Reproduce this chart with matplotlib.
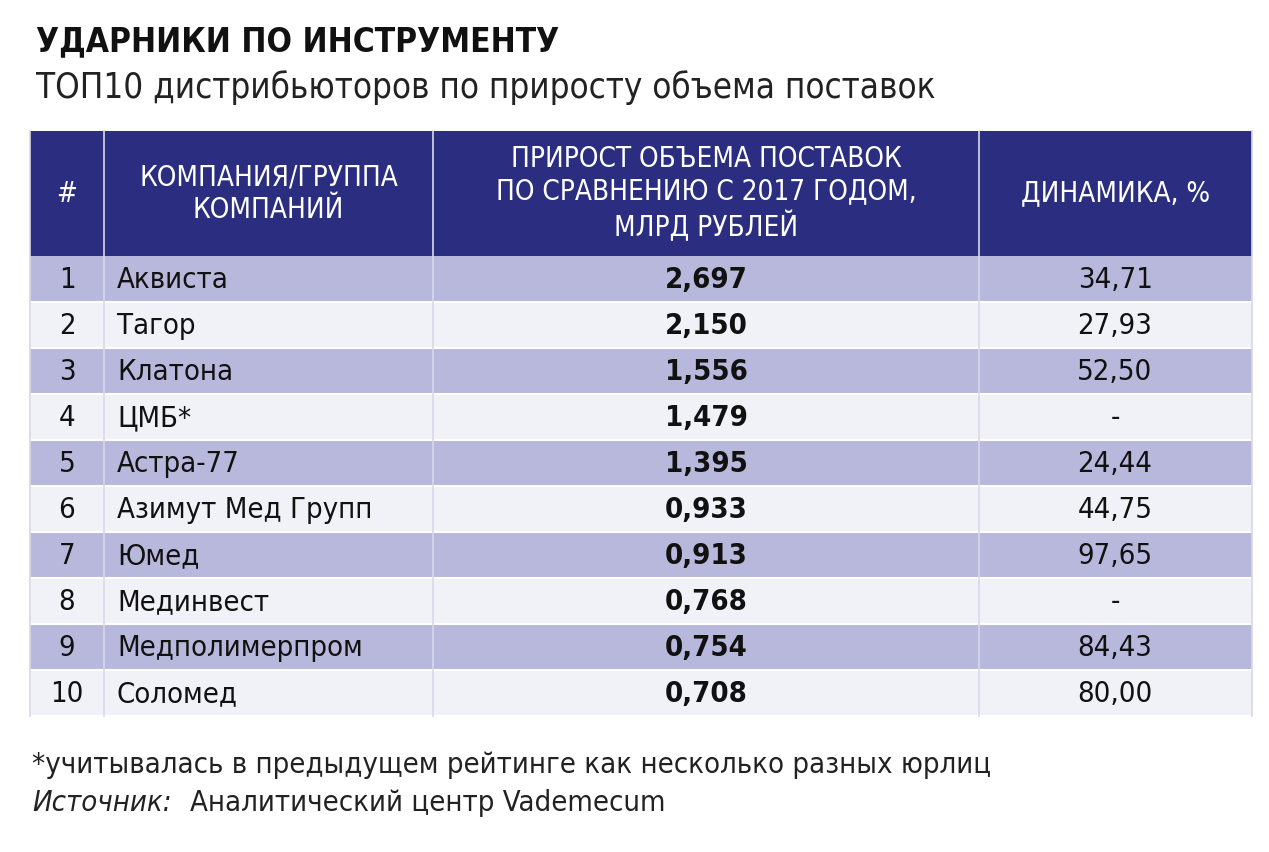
import matplotlib
matplotlib.use("Agg")
import matplotlib.pyplot as plt
from matplotlib.patches import Rectangle

ranks = ["1","2","3","4","5","6","7","8","9","10"]
companies = ["Аквиста","Тагор","Клатона","ЦМБ*","Астра-77","Азимут Мед Групп","Юмед","Мединвест","Медполимерпром","Соломед"]
growth = ["2,697","2,150","1,556","1,479","1,395","0,933","0,913","0,768","0,754","0,708"]
dynamics = ["34,71","27,93","52,50","-","24,44","44,75","97,65","-","84,43","80,00"]
headers = ["#","КОМПАНИЯ/ГРУППА\nКОМПАНИЙ","ПРИРОСТ ОБЪЕМА ПОСТАВОК\nПО СРАВНЕНИЮ С 2017 ГОДОМ,\nМЛРД РУБЛЕЙ","ДИНАМИКА, %"]

plt.rcParams["font.family"] = "DejaVu Sans"
plt.rcParams["font.stretch"] = "condensed"

W, H = 1269, 852
fig = plt.figure(figsize=(W/100, H/100), dpi=100)
ax = fig.add_axes([0, 0, 1, 1])
ax.set_xlim(0, W); ax.set_ylim(H, 0); ax.axis("off")

ax.text(36, 42, "УДАРНИКИ ПО ИНСТРУМЕНТУ", fontsize=24, fontweight="bold", va="center", color="#111")
ax.text(36, 88, "ТОП10 дистрибьюторов по приросту объема поставок", fontsize=25, va="center", color="#222")

cols = [30, 104, 433, 979, 1252]
hy0, hy1 = 131, 256
rh = 46
navy = "#2b2e80"
ax.add_patch(Rectangle((cols[0], hy0), cols[-1]-cols[0], hy1-hy0, color=navy, lw=0))
for i, h in enumerate(headers):
    ax.text((cols[i]+cols[i+1])/2, (hy0+hy1)/2, h, color="white", fontsize=20,
            ha="center", va="center", linespacing=1.2)
for i in range(10):
    y = hy1 + i*rh
    c = "#b8b8dc" if i % 2 == 0 else "#f1f1f8"
    ax.add_patch(Rectangle((cols[0], y), cols[-1]-cols[0], rh, color=c, lw=0))
    ax.plot([cols[0], cols[-1]], [y+rh, y+rh], color="white", lw=1.5)
    cy = y + rh/2 + 1
    ax.text((cols[0]+cols[1])/2, cy, ranks[i], fontsize=21, ha="center", va="center", color="#111")
    ax.text(cols[1]+13, cy, companies[i], fontsize=21, ha="left", va="center", color="#111")
    ax.text(706, cy, growth[i], fontsize=21, fontweight="bold", ha="center", va="center", color="#111")
    ax.text(1115, cy, dynamics[i], fontsize=21, ha="center", va="center", color="#111")
for x in cols:
    ax.plot([x, x], [hy0, hy1+10*rh], color="#d8d8e8", lw=1.2)

ax.text(32, 765, "*учитывалась в предыдущем рейтинге как несколько разных юрлиц", fontsize=21, va="center", color="#222")
ax.text(32, 803, "Источник:", fontsize=21, style="italic", va="center", color="#222")
ax.text(190, 803, "Аналитический центр Vademecum", fontsize=21, va="center", color="#222")

fig.savefig("out.png", dpi=100)
